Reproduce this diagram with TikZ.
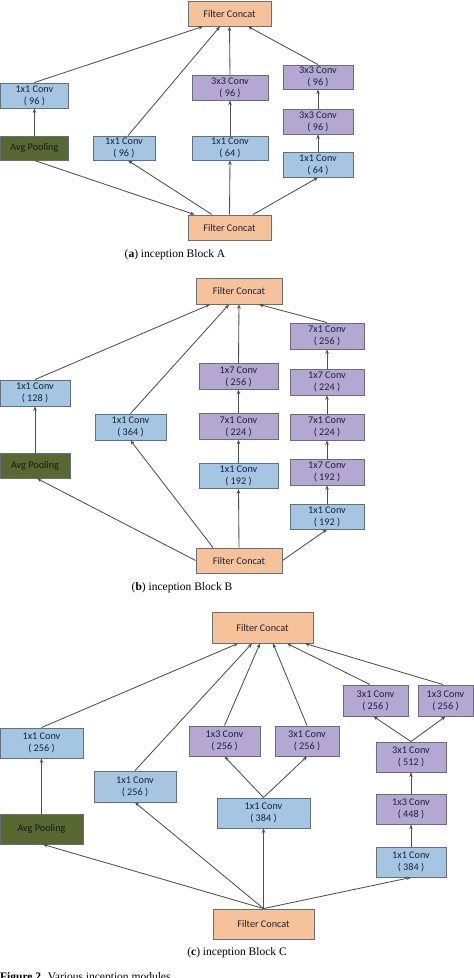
\documentclass[tikz,border=0pt]{standalone}
\usepackage{fontspec}
\setmainfont{Liberation Serif}
\newfontfamily\boxfont{Carlito}
\usetikzlibrary{arrows.meta}
\definecolor{fcfill}{HTML}{F5C29A}
\definecolor{bluefill}{HTML}{A4C6E3}
\definecolor{purplefill}{HTML}{B4A8D2}
\definecolor{greenfill}{HTML}{586830}
\definecolor{boxline}{HTML}{66707A}
\definecolor{boxtext}{HTML}{18233A}
\definecolor{arrowc}{HTML}{4F4F4F}
\tikzset{
  x=1pt, y=-1pt,
  base/.style={draw=boxline, line width=0.9pt, inner sep=0pt, align=center,
    font=\boxfont\fontsize{10.2}{12}\selectfont, text=boxtext},
  fc/.style={base, fill=fcfill},
  bl/.style={base, fill=bluefill},
  pu/.style={base, fill=purplefill},
  gr/.style={base, fill=greenfill, text=black!90},
  sz/.style 2 args={minimum width=#1pt, minimum height=#2pt},
  arr/.style={draw=arrowc, line width=0.85pt, -{Stealth[length=4.5pt,width=3.6pt]}},
  captext/.style={font=\fontsize{11.5}{13}\selectfont, anchor=center},
}
\begin{document}
\begin{tikzpicture}
\useasboundingbox (0,0) rectangle (474,978);
% ---------------- Block A ----------------
\node[fc, sz={83}{25}] (aT) at (229.5,13.5) {Filter Concat};
\node[bl, sz={68}{25}] (aL1) at (34.4,95.5) {1x1 Conv\\( 96 )};
\node[gr, sz={68}{24}] (aAvg) at (34.4,148) {Avg Pooling};
\node[bl, sz={62}{24}] (aM1) at (124,148) {1x1 Conv\\( 96 )};
\node[pu, sz={76}{25}] (a33) at (230,87.5) {3x3 Conv\\( 96 )};
\node[bl, sz={76}{24}] (a11) at (230,148) {1x1 Conv\\( 64 )};
\node[pu, sz={70}{24}] (aR3) at (318,77) {3x3 Conv\\( 96 )};
\node[pu, sz={70}{25}] (aR2) at (318,121.5) {3x3 Conv\\( 96 )};
\node[bl, sz={70}{25}] (aR1) at (318,164.5) {1x1 Conv\\( 64 )};
\node[fc, sz={83}{25}] (aB) at (229.5,227.5) {Filter Concat};
\node[captext] (capA) at (175,255) {(\textbf{a}) inception Block A};
\draw[arr] (aL1.north) -- ([xshift=-26.5pt]aT.south);
\draw[arr] ([xshift=4pt]aM1.north) -- ([xshift=-9.5pt]aT.south);
\draw[arr] (a33.north) -- (aT.south);
\draw[arr] (aR3.north) -- ([xshift=18.5pt]aT.south);
\draw[arr] (a11.north) -- (a33.south);
\draw[arr] (aR1.north) -- (aR2.south);
\draw[arr] (aR2.north) -- (aR3.south);
\draw[arr] (aAvg.north) -- (aL1.south);
\draw[arr] (aAvg.south) -- ([xshift=7pt]aB.north west);
\draw[arr] ([xshift=-17.5pt]aB.north) -- ([xshift=4pt]aM1.south);
\draw[arr] (aB.north) -- (a11.south);
\draw[arr] ([xshift=23.5pt]aB.north) -- (aR1.south);
% ---------------- Block B ----------------
\node[fc, sz={86}{26}] (bT) at (239,291) {Filter Concat};
\node[bl, sz={70}{26}] (bL1) at (35,393) {1x1 Conv\\( 128 )};
\node[gr, sz={70}{25}] (bAvg) at (35,465.5) {Avg Pooling};
\node[bl, sz={71}{26}] (bM1) at (130.5,427) {1x1 Conv\\( 364 )};
\node[pu, sz={79}{25.5}] (b17) at (238.5,376.5) {1x7 Conv\\( 256 )};
\node[pu, sz={79}{25.5}] (b71) at (238.5,426.5) {7x1 Conv\\( 224 )};
\node[bl, sz={79}{25.5}] (b11) at (238.5,476) {1x1 Conv\\( 192 )};
\node[pu, sz={74}{26}] (bR5) at (327,336) {7x1 Conv\\( 256 )};
\node[pu, sz={74}{26}] (bR4) at (327,382) {1x7 Conv\\( 224 )};
\node[pu, sz={74}{26}] (bR3) at (327,427) {7x1 Conv\\( 224 )};
\node[pu, sz={74}{26}] (bR2) at (327,472) {1x7 Conv\\( 192 )};
\node[bl, sz={74}{25}] (bR1) at (327,516.5) {1x1 Conv\\( 192 )};
\node[fc, sz={86}{25}] (bB) at (239,560.5) {Filter Concat};
\node[captext] (capB) at (182,588) {(\textbf{b}) inception Block B};
\draw[arr] (bL1.north) -- ([xshift=-29pt]bT.south);
\draw[arr] (bM1.north) -- ([xshift=-10pt]bT.south);
\draw[arr] (b17.north) -- (bT.south);
\draw[arr] (bR5.north) -- ([xshift=20pt]bT.south);
\draw[arr] (bAvg.north) -- (bL1.south);
\draw[arr] (bB.west) -- ([xshift=2pt]bAvg.south);
\draw[arr] ([xshift=-26pt]bB.north) -- (bM1.south);
\draw[arr] (bB.north) -- (b11.south);
\draw[arr] (b11.north) -- (b71.south);
\draw[arr] (b71.north) -- (b17.south);
\draw[arr] (bB.east) -- (bR1.south);
\draw[arr] (bR1.north) -- (bR2.south);
\draw[arr] (bR2.north) -- (bR3.south);
\draw[arr] (bR3.north) -- (bR4.south);
\draw[arr] (bR4.north) -- (bR5.south);
% ---------------- Block C ----------------
\node[fc, sz={101}{31}] (cT) at (262.5,627.5) {Filter Concat};
\node[bl, sz={83}{30}] (cL1) at (41.5,743) {1x1 Conv\\( 256 )};
\node[gr, sz={83}{30}] (cAvg) at (41.5,829) {Avg Pooling};
\node[bl, sz={82}{31}] (cM1) at (135,786.5) {1x1 Conv\\( 256 )};
\node[pu, sz={71}{30}] (c13) at (224.5,741) {1x3 Conv\\( 256 )};
\node[pu, sz={64}{30}] (c31) at (307,741) {3x1 Conv\\( 256 )};
\node[bl, sz={93}{30}] (c11) at (263.5,813) {1x1 Conv\\( 384 )};
\node[pu, sz={65}{31}] (cR31) at (375.5,700.5) {3x1 Conv\\( 256 )};
\node[pu, sz={55}{31}] (cR13) at (445.5,700.5) {1x3 Conv\\( 256 )};
\node[pu, sz={70}{30}] (cR512) at (411,757) {3x1 Conv\\( 512 )};
\node[pu, sz={70}{30}] (cR448) at (411,809) {1x3 Conv\\( 448 )};
\node[bl, sz={70}{30}] (cR384) at (411,862) {1x1 Conv\\( 384 )};
\node[fc, sz={101}{30}] (cB) at (263.5,924) {Filter Concat};
\node[captext] (capC) at (237,953) {(\textbf{c}) inception Block C};
\node[font=\fontsize{11.5}{13}\selectfont, anchor=north west, inner sep=0pt] (fig) at (0,972) {\textbf{Figure 2.} Various inception modules.};
\draw[arr] (cL1.north) -- ([xshift=-24.5pt]cT.south);
\draw[arr] (cM1.north) -- ([xshift=-10.5pt]cT.south);
\draw[arr] (c13.north) -- ([xshift=-2.5pt]cT.south);
\draw[arr] (c31.north) -- ([xshift=10.5pt]cT.south);
\draw[arr] ([xshift=-5.5pt]cR31.north) -- ([xshift=24.5pt]cT.south);
\draw[arr] ([xshift=-2.5pt]cR13.north) -- ([xshift=42.5pt]cT.south);
\draw[arr] (cAvg.north) -- (cL1.south);
\draw[arr] (cB.north) -- ([xshift=1.5pt]cAvg.south);
\draw[arr] (cB.north) -- (cM1.south);
\draw[arr] (cB.north) -- (c11.south);
\draw[arr] (cB.north) -- (cR384.south);
\draw[arr] (c11.north) -- (c13.south);
\draw[arr] (c11.north) -- (c31.south);
\draw[arr] (cR384.north) -- (cR448.south);
\draw[arr] (cR448.north) -- (cR512.south);
\draw[arr] (cR512.north) -- ([xshift=-2pt]cR31.south);
\draw[arr] (cR512.north) -- (cR13.south);
\end{tikzpicture}
\end{document}
